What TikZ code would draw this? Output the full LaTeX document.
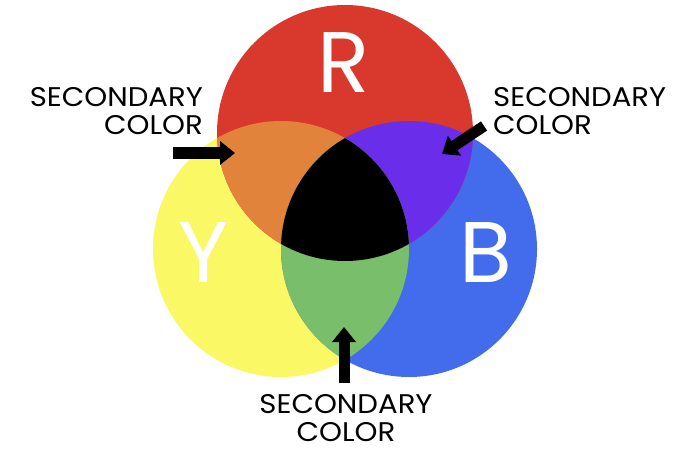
\documentclass[tikz,border=0pt]{standalone}
\usepackage{fontspec}
\setmainfont{Poppins}
\newfontfamily\lblfont{Poppins}[FakeStretch=1.08]
\usetikzlibrary{arrows.meta}
\definecolor{cred}{RGB}{217,56,44}
\definecolor{cyellow}{RGB}{250,248,100}
\definecolor{cblue}{RGB}{66,108,235}
\definecolor{corange}{RGB}{226,131,60}
\definecolor{cpurple}{RGB}{106,46,235}
\definecolor{cgreen}{RGB}{121,190,106}
\tikzset{
  disc/.style={circle,minimum size=256pt,inner sep=0pt,draw=none},
  bigletter/.style={text=white,inner sep=0pt,font=\fontsize{86}{86}\selectfont},
  lbl/.style={inner sep=0pt,font=\lblfont\fontsize{27}{28}\selectfont},
  fatarrow/.style={line width=11pt,-{Triangle[length=15pt,width=23pt]}}
}
\begin{document}
\begin{tikzpicture}[x=1pt,y=-1pt]
\useasboundingbox (0,0) rectangle (700,449);
% circles
\node[disc,fill=cyellow] (Y) at (281,249) {};
\node[disc,fill=cblue] (B) at (409,249) {};
\node[disc,fill=cred] (R) at (345,133) {};
% overlaps
\begin{scope}
  \clip (345,133) circle (128);
  \fill[corange] (281,249) circle (128);
\end{scope}
\begin{scope}
  \clip (345,133) circle (128);
  \fill[cpurple] (409,249) circle (128);
\end{scope}
\begin{scope}
  \clip (281,249) circle (128);
  \fill[cgreen] (409,249) circle (128);
\end{scope}
\begin{scope}
  \clip (345,133) circle (128);
  \clip (281,249) circle (128);
  \fill[black] (409,249) circle (128);
\end{scope}
% letters
\node[bigletter,anchor=base] (tR) at (344,93) {R};
\node[bigletter,anchor=base] (tY) at (204,282) {Y};
\node[bigletter,anchor=base] (tB) at (486,282) {B};
% labels
\node[lbl,anchor=base east] (l1) at (203,107) {SECONDARY};
\node[lbl,anchor=base east] (l2) at (203,135) {COLOR};
\node[lbl,anchor=base west] (r1) at (493,107) {SECONDARY};
\node[lbl,anchor=base west] (r2) at (493,135) {COLOR};
\node[lbl,anchor=base] (b1) at (346,413) {SECONDARY};
\node[lbl,anchor=base] (b2) at (346,441) {COLOR};
% arrows
\coordinate (la0) at (173,153);
\coordinate (la1) at (235,153);
\coordinate (ra0) at (484,126);
\coordinate (ra1) at (442,154);
\coordinate (ba0) at (344,383);
\coordinate (ba1) at (344,327);
\draw[fatarrow] (la0) -- (la1);
\draw[fatarrow] (ra0) -- (ra1);
\draw[fatarrow] (ba0) -- (ba1);
\end{tikzpicture}
\end{document}
